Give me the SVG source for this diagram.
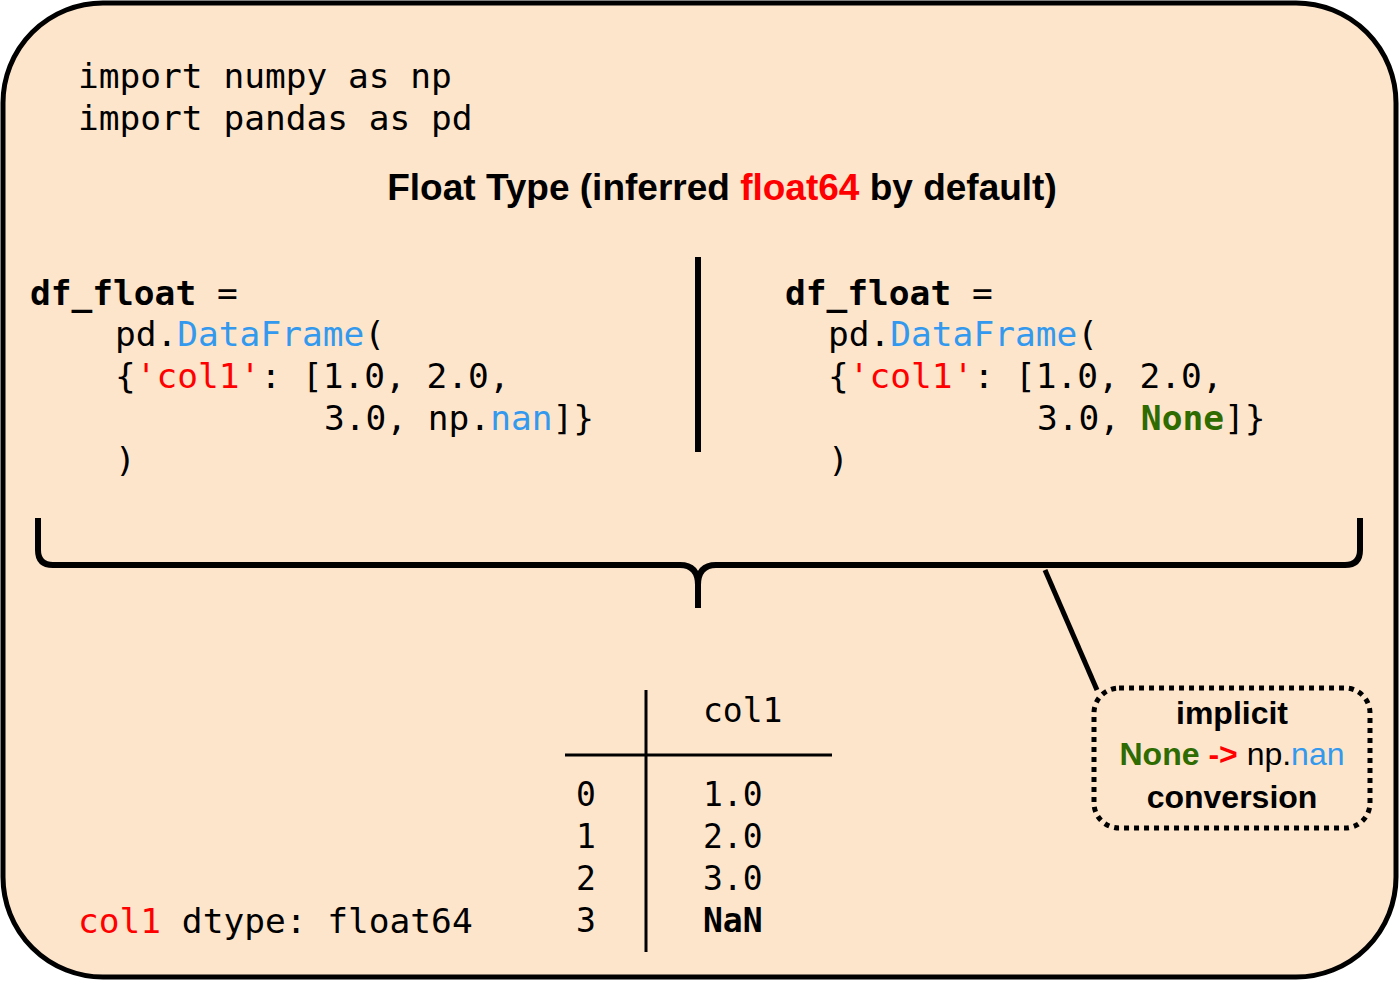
<svg xmlns="http://www.w3.org/2000/svg" width="1400" height="982" viewBox="0 0 1400 982">
<style>
.m{font-family:"DejaVu Sans Mono",monospace;font-size:34.5px;fill:#000}
.t{font-family:"DejaVu Sans Mono",monospace;font-size:33px;fill:#000}
.s{font-family:"Liberation Sans",Arial,sans-serif;font-weight:bold;fill:#000}
.b{font-weight:bold}
.r{fill:#f00}.u{fill:#3399ee}.g{fill:#2e6b00}
.ln{stroke:#000;fill:none}
</style>
<rect x="3" y="3" width="1393" height="974" rx="100" fill="#fde5cc" stroke="#000" stroke-width="5"/>
<g id="imports">
<text class="m" x="78" y="88">import numpy as np</text>
<text class="m" x="78" y="130">import pandas as pd</text>
</g>
<g id="title"><text class="s" x="722" y="200" font-size="37" text-anchor="middle">Float Type (inferred <tspan class="r">float64</tspan> by default)</text></g>
<g id="left-code">
<text class="m b" x="30" y="305">df_float <tspan font-weight="normal">=</tspan></text>
<text class="m" x="115" y="346">pd.<tspan class="u">DataFrame</tspan>(</text>
<text class="m" x="115" y="388">{<tspan class="r">'col1'</tspan>: [1.0, 2.0,</text>
<text class="m" x="324" y="430">3.0, np.<tspan class="u">nan</tspan>]}</text>
<text class="m" x="115" y="472">)</text>
</g>
<g id="right-code">
<text class="m b" x="785" y="305">df_float <tspan font-weight="normal">=</tspan></text>
<text class="m" x="828" y="346">pd.<tspan class="u">DataFrame</tspan>(</text>
<text class="m" x="828" y="388">{<tspan class="r">'col1'</tspan>: [1.0, 2.0,</text>
<text class="m" x="1037" y="430">3.0, <tspan class="g b">None</tspan>]}</text>
<text class="m" x="828" y="472">)</text>
</g>
<g id="connectors">
<line class="ln" x1="698" y1="257" x2="698" y2="452" stroke-width="6"/>
<path class="ln" stroke-width="6" d="M38 518 V550 Q38 565 53 565 H680 Q698 565 698 585 V608 M698 608 V585 Q698 565 716 565 H1345 Q1360 565 1360 550 V518"/>
<line class="ln" x1="1045" y1="570" x2="1097" y2="690" stroke-width="5"/>
</g>
<g id="note">
<rect x="1094" y="688" width="276" height="140" rx="25" fill="none" stroke="#000" stroke-width="5" stroke-dasharray="5 5"/>
<text class="s" x="1232" y="724" font-size="32" text-anchor="middle">implicit</text>
<text class="s" x="1232" y="765" font-size="32" text-anchor="middle"><tspan class="g">None</tspan> <tspan class="r">-&gt;</tspan> <tspan font-weight="normal">np.<tspan class="u">nan</tspan></tspan></text>
<text class="s" x="1232" y="808" font-size="32" text-anchor="middle">conversion</text>
</g>
<g id="table">
<line class="ln" x1="646" y1="690" x2="646" y2="952" stroke-width="3"/>
<line class="ln" x1="565" y1="755" x2="832" y2="755" stroke-width="3"/>
<text class="t" x="703" y="722">col1</text>
<text class="t" x="576" y="806">0</text><text class="t" x="703" y="806">1.0</text>
<text class="t" x="576" y="848">1</text><text class="t" x="703" y="848">2.0</text>
<text class="t" x="576" y="890">2</text><text class="t" x="703" y="890">3.0</text>
<text class="t" x="576" y="932">3</text><text class="t b" x="703" y="932">NaN</text>
</g>
<g id="dtype"><text class="m" x="78" y="933" font-size="27.5"><tspan class="r">col1</tspan> dtype: float64</text></g>
</svg>
